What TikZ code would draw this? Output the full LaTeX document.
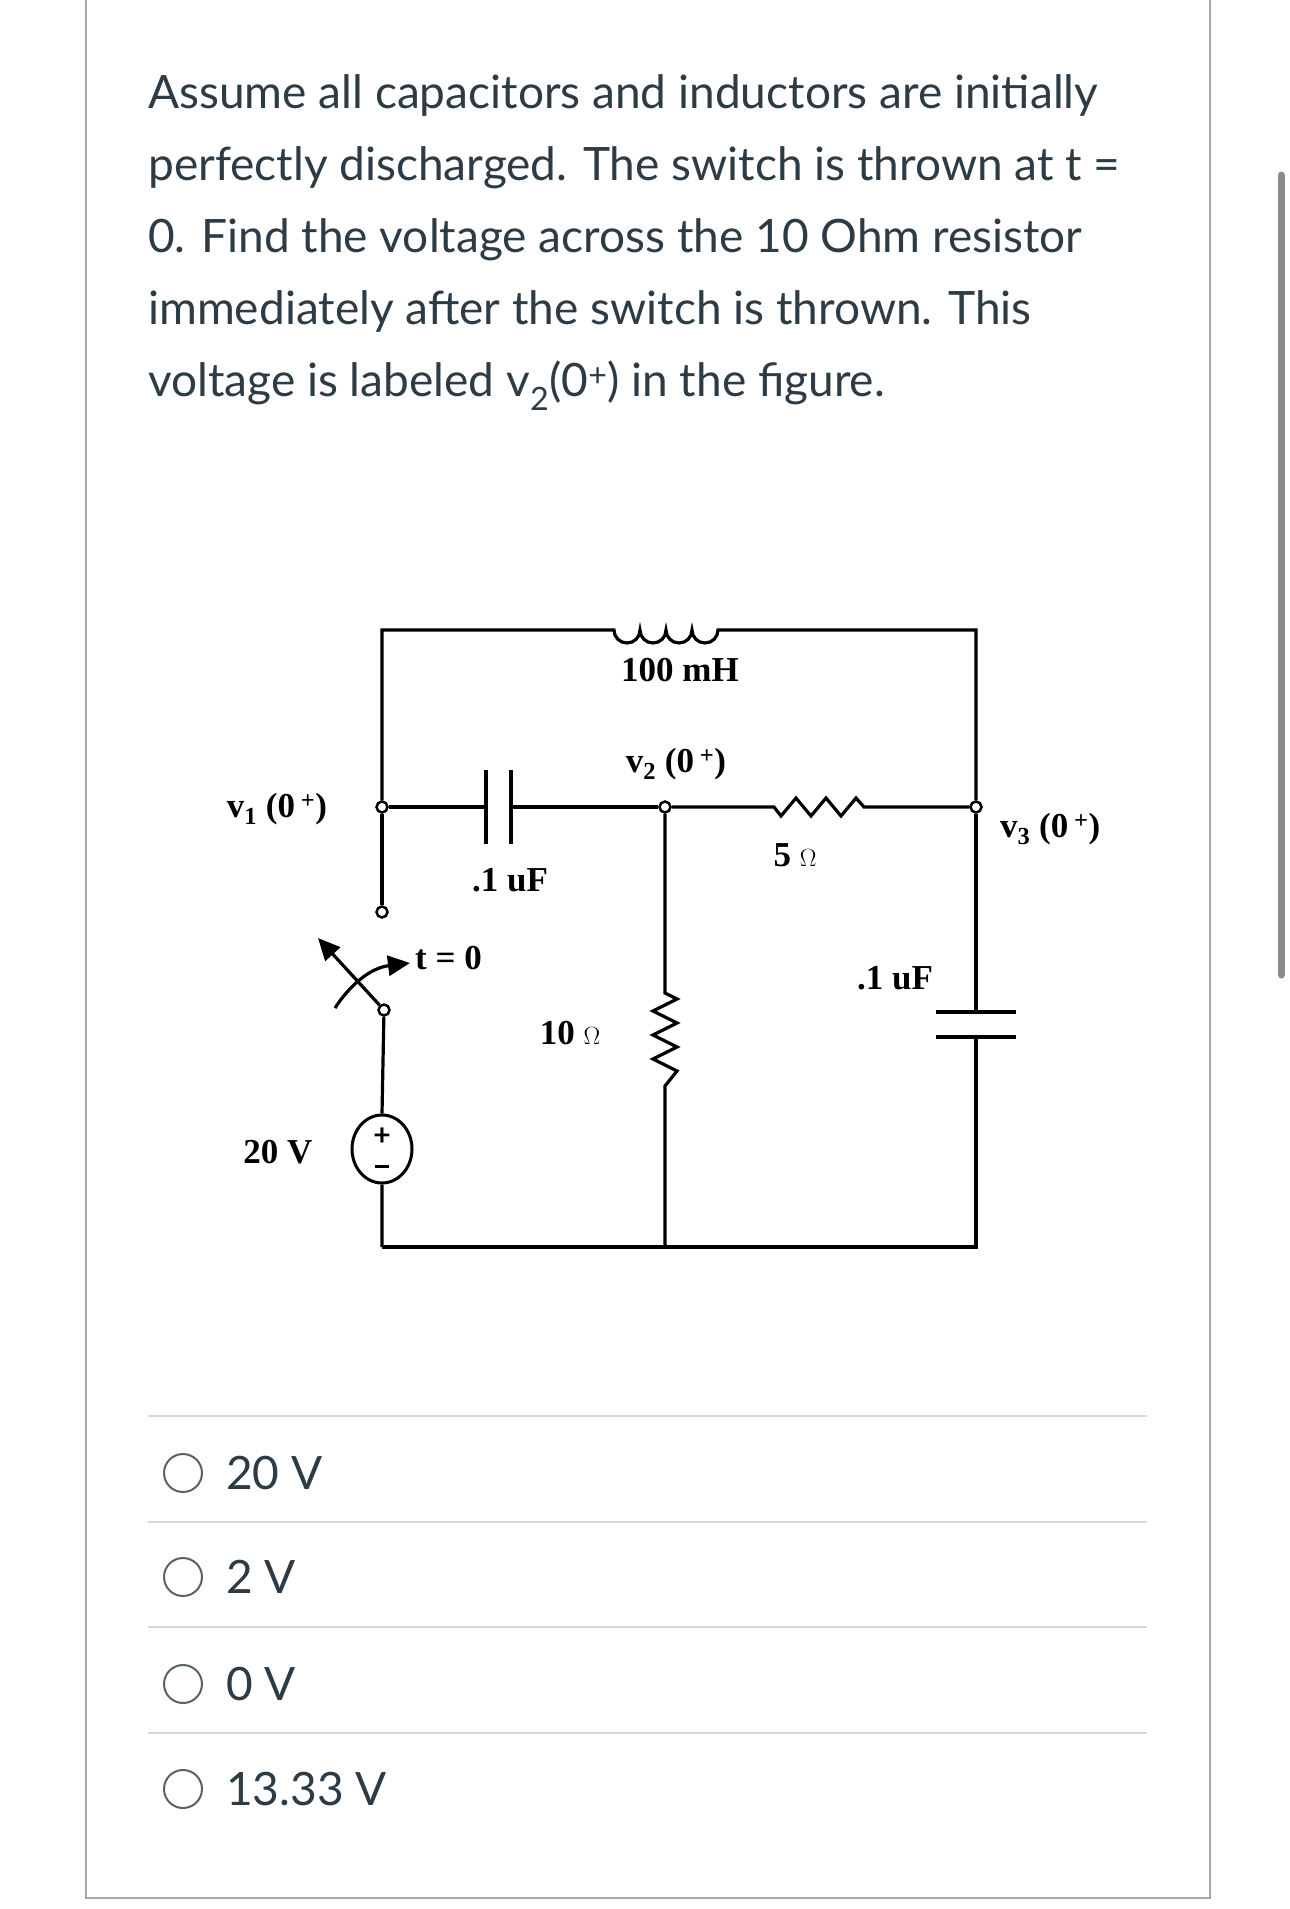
\documentclass[tikz,border=0pt]{standalone}
\usepackage{fontspec}
\setmainfont{Lato}
\newfontfamily\cf{Liberation Serif}
\usetikzlibrary{arrows.meta,shapes.geometric}
\definecolor{txt}{HTML}{2D3B45}
\begin{document}
\begin{tikzpicture}[x=1pt,y=-1pt,
  wire/.style={line width=3.2pt},
  term/.style={circle,draw,line width=2.5pt,fill=white,inner sep=0pt,minimum size=11pt},
  q/.style={anchor=base west,font=\fontsize{46}{52}\selectfont,text=txt,inner sep=0pt},
  lab/.style={font=\cf\bfseries\fontsize{35}{38}\selectfont,inner sep=0pt},
  sep/.style={draw=black!15,line width=1.5pt},
  radio/.style={circle,draw=txt!80,line width=2pt,minimum size=38pt,inner sep=0pt}]
\useasboundingbox (0,0) rectangle (1290,1909);
\fill[white] (0,0) rectangle (1290,1909);
\draw[black!35,line width=2pt] (86,0) -- (86,1898) -- (1210,1898) -- (1210,0);
\draw[black!45,line width=7pt,line cap=round] (1281,175) -- (1281,975);
% question
\node[q] (l1) at (148,108) {Assume all capacitors and inductors are initially};
\node[q] (l2) at (148,180) {perfectly discharged. The switch is thrown at t =};
\node[q] (l3) at (148,252) {0. Find the voltage across the 10 Ohm resistor};
\node[q] (l4) at (148,324) {immediately after the switch is thrown. This};
\node[q] (l5) at (148,396) {voltage is labeled v\textsubscript{2}(0\textsuperscript{+}) in the figure.};
% circuit coordinates
\coordinate (tl) at (382,630); \coordinate (tr) at (976,630);
\coordinate (bl) at (382,1247); \coordinate (br) at (976,1247);
\coordinate (bm) at (665,1247);
\node[term] (n1) at (382,807) {};
\node[term] (n2) at (665,807) {};
\node[term] (n3) at (976,807) {};
\node[term] (s1) at (382,912) {};
\node[term] (s2) at (384,1010) {};
% top inductor
\draw[wire] (n1) -- (tl) -- (614,630)
  arc[start angle=180,end angle=0,radius=13] arc[start angle=180,end angle=0,radius=13]
  arc[start angle=180,end angle=0,radius=13] arc[start angle=180,end angle=0,radius=13]
  -- (tr) -- (n3);
% cap C1
\draw[wire] (n1) -- (486,807) (511,807) -- (n2);
\draw[wire] (486,770) -- (486,844) (511,770) -- (511,844);
% 5 ohm
\draw[wire] (n2) -- (774,807) -- (781,816) -- (796,798) -- (811,816) -- (826,798) -- (841,816) -- (856,798) -- (864,807) -- (n3);
% 10 ohm
\draw[wire] (n2) -- (665,993) -- (677,999) -- (653,1011) -- (677,1023) -- (653,1035) -- (677,1047) -- (653,1059) -- (677,1071) -- (665,1086) -- (bm);
% C2
\draw[wire] (n3) -- (976,1012) (976,1037) -- (br) -- (bl);
\draw[wire] (936,1012) -- (1016,1012) (936,1037) -- (1016,1037);
% source & switch
\node[ellipse,draw,line width=3pt,minimum width=60pt,minimum height=68pt,inner sep=0pt] (src) at (382,1149) {};
\draw[wire] (n1) -- (s1);
\draw[wire] (s2) -- (src.north) (src.south) -- (bl);
\node[font=\bfseries\fontsize{30}{30}\selectfont] (pl) at (382,1137) {+};
\draw[line width=3pt] (375,1166) -- (389,1166);
\draw[wire,-{Triangle[length=22pt,width=20pt]}] (s2) -- (318,938);
\draw[wire,-{Triangle[length=22pt,width=20pt]}] (335,1008) .. controls (350,985) and (370,968) .. (410,963);
% labels
\node[lab] (L1) at (680,670) {100 mH};
\node[lab] (L2) at (676,764) {v\textsubscript{2} (0\,\textsuperscript{+})};
\node[lab] (L3) at (277,809) {v\textsubscript{1} (0\,\textsuperscript{+})};
\node[lab,anchor=west] (L4) at (1000,829) {v\textsubscript{3} (0\,\textsuperscript{+})};
\node[lab] (L5) at (795,855) {5 $\Omega$};
\node[lab] (L6) at (510,880) {.1 uF};
\node[lab,anchor=west] (L7) at (415,958) {t = 0};
\node[lab] (L8) at (570,1033) {10 $\Omega$};
\node[lab] (L9) at (895,978) {.1 uF};
\node[lab] (L10) at (278,1152) {20 V};
% options
\foreach \y in {1416,1522,1627,1733} \draw[sep] (148,\y) -- (1147,\y);
\node[radio] (r1) at (183,1473) {}; \node[q,anchor=west] (o1) at (226,1473) {20 V};
\node[radio] (r2) at (183,1577) {}; \node[q,anchor=west] (o2) at (226,1577) {2 V};
\node[radio] (r3) at (183,1684) {}; \node[q,anchor=west] (o3) at (226,1684) {0 V};
\node[radio] (r4) at (183,1789) {}; \node[q,anchor=west] (o4) at (226,1789) {13.33 V};
\end{tikzpicture}
\end{document}
